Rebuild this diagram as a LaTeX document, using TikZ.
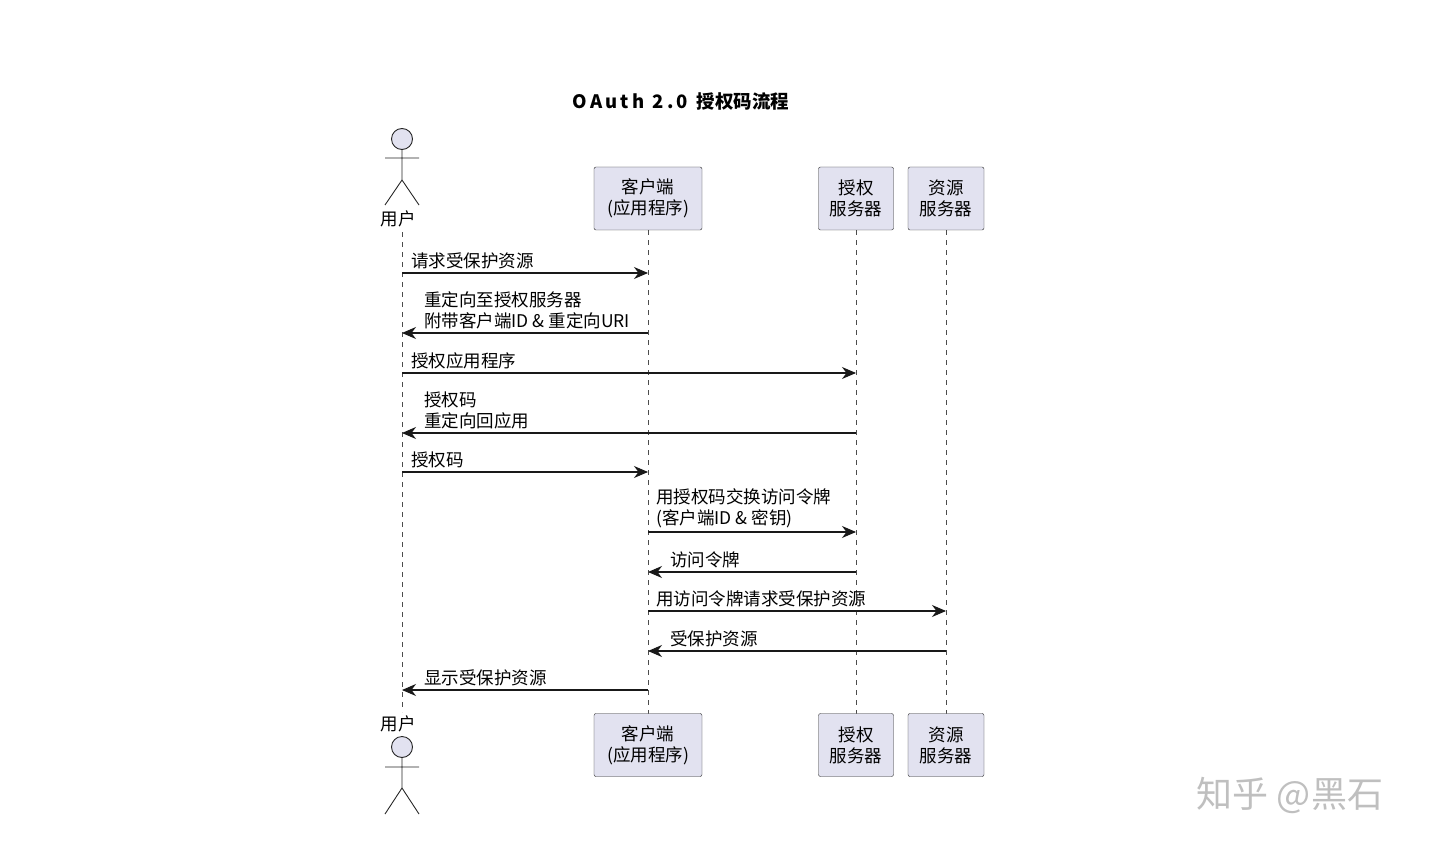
\documentclass[tikz,border=0pt]{standalone}
\usepackage{fontspec}
\setmainfont{Noto Sans CJK SC}
\usetikzlibrary{arrows.meta}
\definecolor{pbox}{HTML}{E2E2F0}
\begin{document}
\begin{tikzpicture}[x=1pt,y=-1pt,font=\fontsize{17.5}{21}\selectfont,
  part/.style={draw=black!85,fill=pbox,rounded corners=2pt,align=center,inner sep=0pt,minimum height=63pt},
  life/.style={draw=black!70,dash pattern=on 5pt off 5pt,line width=0.6pt},
  msg/.style={draw=black!90,line width=1.1pt,-{Stealth[length=14pt,width=12pt,inset=4.5pt]}},
  lab/.style={anchor=south west,inner sep=1pt,align=left},
  act/.style={draw=black!85,line width=0.9pt}]
\useasboundingbox (0,0) rectangle (1440,853);
\node[font=\fontsize{18.5}{22}\selectfont\bfseries] (title) at (681,101) {O\,A\,u\,t\,h\ \ 2\,.\,0\ \ 授权码流程};
% lifelines
\coordinate (u1) at (402,232); \coordinate (u2) at (402,712);
\coordinate (c1) at (648,230); \coordinate (c2) at (648,714);
\coordinate (a1) at (856,230); \coordinate (a2) at (856,714);
\coordinate (r1) at (946,230); \coordinate (r2) at (946,714);
\draw[life] (u1)--(u2); \draw[life] (c1)--(c2); \draw[life] (a1)--(a2); \draw[life] (r1)--(r2);
% participants
\node[part,minimum width=108pt] (ct) at (648,198.5) {客户端\\(应用程序)};
\node[part,minimum width=75pt] (at) at (856,198.5) {授权\\服务器};
\node[part,minimum width=76pt] (rt) at (946,198.5) {资源\\服务器};
\node[part,minimum width=108pt] (cb) at (648,745) {客户端\\(应用程序)};
\node[part,minimum width=75pt] (ab) at (856,745) {授权\\服务器};
\node[part,minimum width=76pt] (rb) at (946,745) {资源\\服务器};
% actors
\draw[act,fill=pbox] (402,139) circle (10.5);
\draw[act] (402,149.5)--(402,180) (385,158)--(419,158) (402,180)--(385,205) (402,180)--(419,205);
\node (ut) at (398,219) {用户};
\node (ub) at (398,724) {用户};
\draw[act,fill=pbox] (402,747) circle (10.5);
\draw[act] (402,757.5)--(402,788) (385,767)--(419,767) (402,788)--(385,814) (402,788)--(419,814);
% messages
\coordinate (m1u) at (402,273); \coordinate (m1c) at (648,273);
\draw[msg] (m1u)--(m1c); \node[lab] (l1) at (410,270) {请求受保护资源};
\coordinate (m2u) at (402,333); \coordinate (m2c) at (648,333);
\draw[msg] (m2c)--(m2u); \node[lab] (l2) at (423,330) {重定向至授权服务器\\附带客户端ID \& 重定向URI};
\coordinate (m3u) at (402,373); \coordinate (m3a) at (856,373);
\draw[msg] (m3u)--(m3a); \node[lab] (l3) at (410,370) {授权应用程序};
\coordinate (m4u) at (402,433); \coordinate (m4a) at (856,433);
\draw[msg] (m4a)--(m4u); \node[lab] (l4) at (423,430) {授权码\\重定向回应用};
\coordinate (m5u) at (402,472); \coordinate (m5c) at (648,472);
\draw[msg] (m5u)--(m5c); \node[lab] (l5) at (410,469) {授权码};
\coordinate (m6c) at (648,532); \coordinate (m6a) at (856,532);
\draw[msg] (m6c)--(m6a); \node[lab] (l6) at (655,529) {用授权码交换访问令牌\\(客户端ID \& 密钥)};
\coordinate (m7c) at (648,572); \coordinate (m7a) at (856,572);
\draw[msg] (m7a)--(m7c); \node[lab] (l7) at (669,569) {访问令牌};
\coordinate (m8c) at (648,611); \coordinate (m8r) at (946,611);
\draw[msg] (m8c)--(m8r); \node[lab] (l8) at (655,608) {用访问令牌请求受保护资源};
\coordinate (m9c) at (648,651); \coordinate (m9r) at (946,651);
\draw[msg] (m9r)--(m9c); \node[lab] (l9) at (669,648) {受保护资源};
\coordinate (m10u) at (402,690); \coordinate (m10c) at (648,690);
\draw[msg] (m10c)--(m10u); \node[lab] (l10) at (423,687) {显示受保护资源};
\node[text=black!25,font=\fontsize{36}{40}\selectfont] (wm) at (1290,795) {知乎 @黑石};
\end{tikzpicture}
\end{document}
